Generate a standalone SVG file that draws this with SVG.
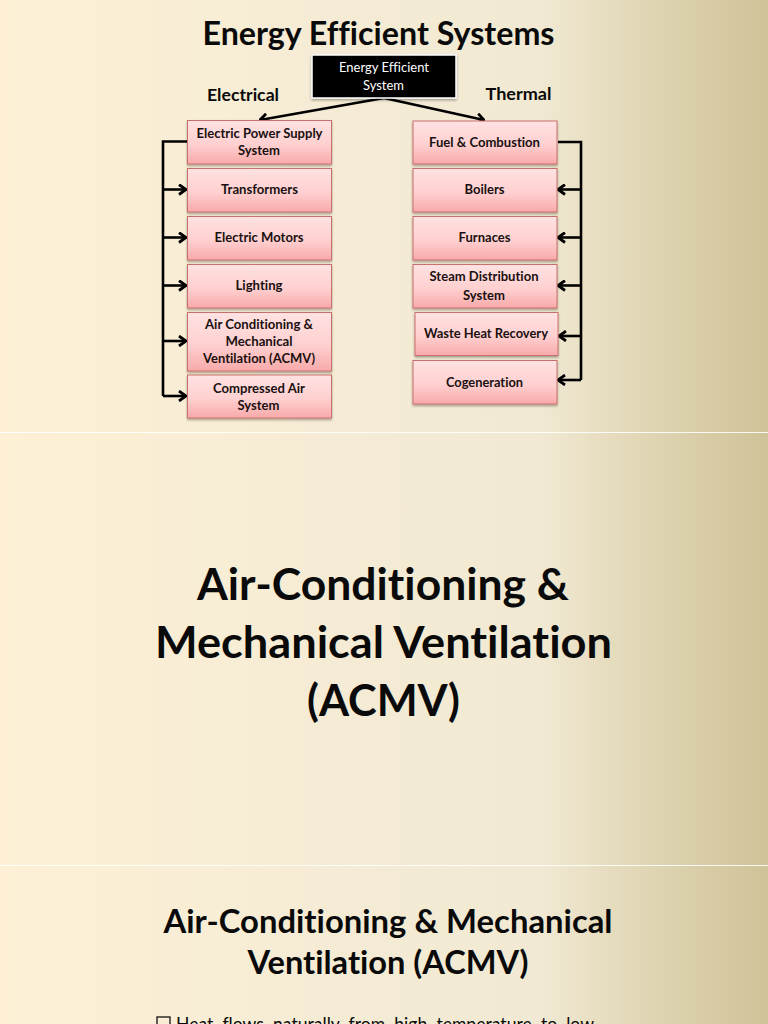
<svg xmlns="http://www.w3.org/2000/svg" width="768" height="1024" viewBox="0 0 768 1024">
<style>
text{font-family:"Lato","Liberation Sans",sans-serif;text-anchor:middle;fill:#0a0a0a;font-variant-ligatures:none}
.t{font-weight:700;font-size:31.5px}
.b{font-weight:700;font-size:44px}
.l{font-weight:700;font-size:17.5px}
.n rect{fill:url(#pink);stroke:#c9706c;stroke-width:1;filter:url(#sh)}
.n text{font-weight:700;font-size:13.5px;fill:#1a1010}
.w{font-size:13.5px;fill:#fff}
.c{fill:none;stroke:#000;stroke-width:2.6}
</style>
<defs>
<linearGradient id="bg" x1="0" x2="1" y1="0" y2="0">
<stop offset="0" stop-color="#fdf0d5"/><stop offset=".4" stop-color="#f6ecd5"/><stop offset=".7" stop-color="#f1e9d3"/><stop offset=".85" stop-color="#dfd5b3"/><stop offset="1" stop-color="#cfc298"/>
</linearGradient>
<linearGradient id="pink" x1="0" x2="0" y1="0" y2="1">
<stop offset="0" stop-color="#ffe2e2"/><stop offset=".55" stop-color="#ffd0d0"/><stop offset="1" stop-color="#f8a9a9"/>
</linearGradient>
<filter id="sh" x="-5%" y="-10%" width="110%" height="125%"><feDropShadow dx="0" dy="1.500" stdDeviation="1" flood-color="#000" flood-opacity=".35"/></filter>
<marker id="a" viewBox="0 0 12 12" refX="11" refY="6" markerWidth="12" markerHeight="12" markerUnits="userSpaceOnUse" orient="auto"><path d="M4 1L11 6L4 11" fill="none" stroke="#000" stroke-width="2.800"/></marker>
</defs>
<rect width="768" height="1024" fill="url(#bg)"/>
<rect y="432" width="768" height="1" fill="#fff" fill-opacity=".85"/>
<rect y="865" width="768" height="1" fill="#fff" fill-opacity=".85"/>
<text class="t" x="378.500" y="45" textLength="352" lengthAdjust="spacingAndGlyphs">Energy Efficient Systems</text>
<text class="l" x="243" y="101" textLength="72" lengthAdjust="spacingAndGlyphs">Electrical</text>
<text class="l" x="518.500" y="100" textLength="66" lengthAdjust="spacingAndGlyphs">Thermal</text>
<g id="connectors" class="c">
<path d="M384 98L260 120" marker-end="url(#a)"/>
<path d="M384 98L484 120" marker-end="url(#a)"/>
<path d="M187 141.500H163V396"/>
<path d="M163 189.500H186" marker-end="url(#a)"/>
<path d="M163 237.500H186" marker-end="url(#a)"/>
<path d="M163 285.500H186" marker-end="url(#a)"/>
<path d="M163 341H186" marker-end="url(#a)"/>
<path d="M163 396H186" marker-end="url(#a)"/>
<path d="M558 142H581V380"/>
<path d="M581 189.500H558" marker-end="url(#a)"/>
<path d="M581 237.500H558" marker-end="url(#a)"/>
<path d="M581 285.500H558" marker-end="url(#a)"/>
<path d="M581 336H559" marker-end="url(#a)"/>
<path d="M581 380H558" marker-end="url(#a)"/>
</g>
<g id="root"><rect x="312" y="55" width="144" height="43" fill="#000" stroke="#fff" stroke-width="1.500" filter="url(#sh)"/>
<text class="w" x="384" y="72" style="fill:#fff" textLength="90" lengthAdjust="spacingAndGlyphs">Energy Efficient</text>
<text class="w" x="383.500" y="89.500" style="fill:#fff" textLength="41" lengthAdjust="spacingAndGlyphs">System</text></g>
<g id="n1" class="n"><rect x="187.500" y="120.500" width="144" height="43.500"/><text x="259.500" y="138" textLength="126" lengthAdjust="spacingAndGlyphs">Electric Power Supply</text><text x="259" y="155" textLength="42" lengthAdjust="spacingAndGlyphs">System</text></g>
<g id="n2" class="n"><rect x="187.500" y="168.500" width="144" height="43.500"/><text x="259.500" y="194" textLength="77" lengthAdjust="spacingAndGlyphs">Transformers</text></g>
<g id="n3" class="n"><rect x="187.500" y="216.500" width="144" height="43.500"/><text x="259" y="242" textLength="89" lengthAdjust="spacingAndGlyphs">Electric Motors</text></g>
<g id="n4" class="n"><rect x="187.500" y="264.500" width="144" height="43.500"/><text x="259" y="290" textLength="47" lengthAdjust="spacingAndGlyphs">Lighting</text></g>
<g id="n5" class="n"><rect x="187.500" y="312.500" width="144" height="58.500"/><text x="259" y="329" textLength="108" lengthAdjust="spacingAndGlyphs">Air Conditioning &amp;</text><text x="259" y="346" textLength="67" lengthAdjust="spacingAndGlyphs">Mechanical</text><text x="259" y="363" textLength="112" lengthAdjust="spacingAndGlyphs">Ventilation (ACMV)</text></g>
<g id="n6" class="n"><rect x="187.500" y="375" width="144" height="43"/><text x="259" y="393" textLength="92" lengthAdjust="spacingAndGlyphs">Compressed Air</text><text x="258.500" y="410" textLength="42" lengthAdjust="spacingAndGlyphs">System</text></g>
<g id="n7" class="n"><rect x="413" y="121" width="144" height="43"/><text x="484.500" y="147" textLength="111" lengthAdjust="spacingAndGlyphs">Fuel &amp; Combustion</text></g>
<g id="n8" class="n"><rect x="413" y="168.500" width="144" height="43.500"/><text x="484.500" y="194" textLength="40" lengthAdjust="spacingAndGlyphs">Boilers</text></g>
<g id="n9" class="n"><rect x="413" y="216.500" width="144" height="43.500"/><text x="484.500" y="242" textLength="52" lengthAdjust="spacingAndGlyphs">Furnaces</text></g>
<g id="n10" class="n"><rect x="413" y="264.500" width="144" height="43.500"/><text x="484" y="281" textLength="109" lengthAdjust="spacingAndGlyphs">Steam Distribution</text><text x="484" y="299.500" textLength="42" lengthAdjust="spacingAndGlyphs">System</text></g>
<g id="n11" class="n"><rect x="415" y="312.500" width="143" height="43"/><text x="486" y="338" textLength="124" lengthAdjust="spacingAndGlyphs">Waste Heat Recovery</text></g>
<g id="n12" class="n"><rect x="413" y="360.500" width="144" height="43.500"/><text x="484.500" y="386.500" textLength="77" lengthAdjust="spacingAndGlyphs">Cogeneration</text></g>
<text class="b" x="383" y="600" textLength="372" lengthAdjust="spacingAndGlyphs">Air-Conditioning &amp;</text>
<text class="b" x="383.500" y="658" textLength="457" lengthAdjust="spacingAndGlyphs">Mechanical Ventilation</text>
<text class="b" x="383.500" y="716" textLength="153" lengthAdjust="spacingAndGlyphs">(ACMV)</text>
<text class="t" x="388" y="933" textLength="449" lengthAdjust="spacingAndGlyphs">Air-Conditioning &amp; Mechanical</text>
<text class="t" x="388" y="974" textLength="281" lengthAdjust="spacingAndGlyphs">Ventilation (ACMV)</text>
<rect x="157" y="1017" width="13" height="13" fill="none" stroke="#111" stroke-width="1.300"/>
<text x="385" y="1031" font-size="19" style="font-weight:400" word-spacing="5" textLength="418" lengthAdjust="spacingAndGlyphs">Heat flows naturally from high temperature to low</text>
</svg>
